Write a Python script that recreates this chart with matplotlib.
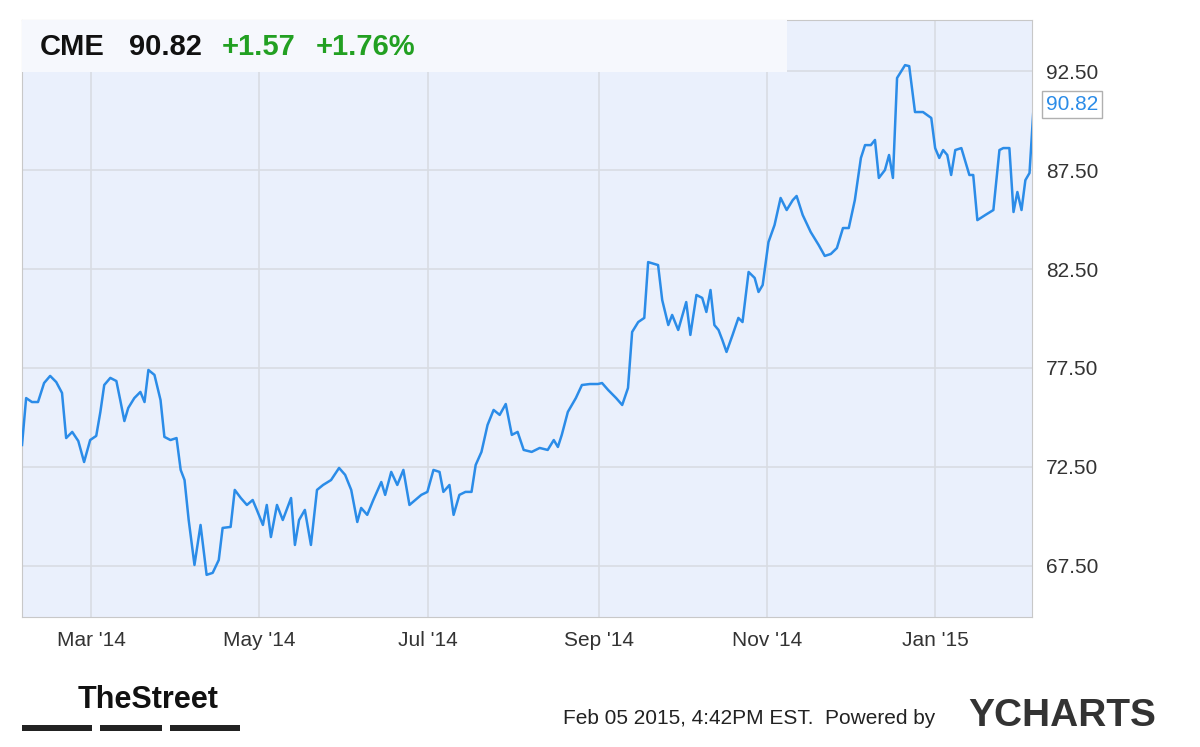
import matplotlib
matplotlib.use("Agg")
import matplotlib.pyplot as plt
import pandas as pd
from matplotlib.patches import Rectangle

plt.rcParams['font.family'] = ['Liberation Sans', 'DejaVu Sans']

start = pd.Timestamp("2014-02-04")
day_offsets = [0,1.5,3.6,5.8,8,10.2,12.4,14.5,16,18.2,20.4,22.5,24.7,26.9,28.4,29.8,32,34.2,35.6,37.1,38.5,40.7,42.9,44.4,45.8,48,50.2,51.6,53.8,56,57.5,58.9,60.4,62.5,64.7,66.9,69.1,71.3,72.7,75.6,77.1,79.3,81.5,83.6,85.1,87.3,88.7,90.2,92.4,94.5,97.5,98.9,100.4,102.5,104.7,106.9,109.1,112,114.9,117.1,119.3,121.5,122.9,125.1,127.3,130.2,131.6,133.8,136,138.2,140.4,142.5,144.7,146.9,149.1,151.3,152.7,154.9,156.4,158.5,160.7,162.9,164.4,166.5,168.7,170.9,173.1,175.3,177.5,179.6,181.8,184.7,187.6,190.5,192.7,194.2,195.6,197.8,200.7,202.9,205.8,208.7,210.2,212.4,215.3,217.5,219.6,221.1,223.3,225.5,226.9,230.5,232,234.2,235.6,237.8,240.7,242.2,244.4,246.5,248,249.5,250.9,252.4,253.8,255.3,257.5,259.6,261.1,263.3,265.5,266.9,268.4,270.5,272.7,274.9,277.1,279.3,280.7,282.9,285.8,288.7,290.9,293.1,295.3,297.5,299.6,301.8,304,305.5,307.6,309.1,310.5,312.7,314.2,315.6,317.1,320,321.5,323.6,326.5,329.5,330.9,332.4,333.8,335.3,336.7,338.2,340.4,343.3,344.7,346.2,349.1,352,354.2,355.6,357.8,359.3,360.7,362.2,363.6,365.1,366.5,367.3]
prices = [73.61,75.98,75.78,75.78,76.74,77.10,76.79,76.24,73.96,74.27,73.81,72.75,73.86,74.07,75.28,76.64,77.0,76.84,75.88,74.82,75.48,75.98,76.29,75.78,77.40,77.15,75.88,74.02,73.86,73.96,72.35,71.84,69.82,67.55,69.57,67.05,67.15,67.80,69.42,69.47,71.34,70.93,70.58,70.83,70.33,69.57,70.58,68.96,70.58,69.82,70.93,68.56,69.82,70.33,68.56,71.34,71.59,71.84,72.45,72.10,71.34,69.72,70.43,70.08,70.83,71.74,71.09,72.25,71.59,72.35,70.58,70.83,71.09,71.24,72.35,72.25,71.24,71.59,70.08,71.09,71.24,71.24,72.60,73.26,74.62,75.38,75.13,75.68,74.12,74.27,73.36,73.26,73.46,73.36,73.86,73.51,74.12,75.28,75.98,76.64,76.69,76.69,76.74,76.39,75.98,75.63,76.49,79.32,79.82,80.03,82.85,82.70,80.93,79.67,80.18,79.42,80.83,79.17,81.19,81.04,80.33,81.44,79.67,79.42,78.91,78.31,79.17,80.03,79.82,82.35,82.05,81.34,81.69,83.86,84.72,86.09,85.48,85.98,86.19,85.23,84.37,83.71,83.16,83.26,83.56,84.57,84.57,85.98,88.11,88.76,88.76,89.02,87.10,87.50,88.26,87.10,92.15,92.80,92.75,90.43,90.43,90.13,88.61,88.11,88.51,88.26,87.25,88.51,88.61,87.25,87.25,84.97,85.23,85.48,88.51,88.61,88.61,85.38,86.39,85.48,86.99,87.35,90.53,90.82]
n = min(len(day_offsets), len(prices))
dates = [start + pd.to_timedelta(d, unit="D") for d in day_offsets[:n]]
vals = prices[:n]
y_ticks = [67.5, 72.5, 77.5, 82.5, 87.5, 92.5]
x_ticks = ["2014-03-01", "2014-05-01", "2014-07-01", "2014-09-01", "2014-11-01", "2015-01-01"]
x_labels = ["Mar '14", "May '14", "Jul '14", "Sep '14", "Nov '14", "Jan '15"]

W, H = 1200, 747
fig = plt.figure(figsize=(12, 7.47), dpi=100)
ax = fig.add_axes([22/W, 1-617/H, (1032-22)/W, (617-20)/H])
ax.set_facecolor("#eaf0fc")
ax.plot(dates, vals, color="#2b8ce8", lw=1.8, zorder=3)
ax.set_xlim(pd.Timestamp("2014-02-04"), pd.Timestamp("2015-02-05"))
ax.set_ylim(64.92, 95.08)
ax.yaxis.tick_right()
ax.set_yticks(y_ticks)
ax.set_yticklabels([f"{v:.2f}" for v in y_ticks], fontsize=15, color="#333333")
ax.set_xticks([pd.Timestamp(t) for t in x_ticks])
ax.set_xticklabels(x_labels, fontsize=15, color="#333333")
ax.tick_params(length=0, pad=10)
ax.grid(True, color="#d8dce3", lw=1.2, zorder=1)
for s in ax.spines.values():
    s.set_color("#c8c8c8")

# header band
fig.patches.append(Rectangle((22/W, 1-72/H), (787-22)/W, 52/H, transform=fig.transFigure,
                             facecolor="#f6f8fd", edgecolor="none", zorder=2))
hdr = dict(fontsize=21, fontweight="bold", va="center", zorder=5)
fig.text(40/W, 1-47/H, "CME", color="#111111", **hdr)
fig.text(129/W, 1-47/H, "90.82", color="#111111", **hdr)
fig.text(222/W, 1-47/H, "+1.57", color="#22a022", **hdr)
fig.text(316/W, 1-47/H, "+1.76%", color="#22a022", **hdr)

# last price tag
ax.annotate(f"{vals[-1]:.2f}", xy=(1.0, vals[-1]), xycoords=("axes fraction", "data"),
            xytext=(10, 0), textcoords="offset points", fontsize=15, color="#2b8ce8",
            va="center", ha="left",
            bbox=dict(boxstyle="square,pad=0.2", fc="white", ec="#b0b0b0"), annotation_clip=False)

# footer
fig.text(78/W, 1-700/H, "TheStreet", fontsize=22, fontweight="bold", color="#111111",
         va="center")
for x0, w in ((22, 70), (100, 62), (170, 70)):
    fig.patches.append(Rectangle((x0/W, 1-731/H), w/W, 6/H, transform=fig.transFigure,
                                 facecolor="#222222", edgecolor="none"))
fig.text(563/W, 1-718/H, "Feb 05 2015, 4:42PM EST.  Powered by", fontsize=15, color="#222222", va="center")
fig.text(968/W, 1-716/H, "YCHARTS", fontsize=28, fontweight="bold", color="#333333", va="center")
fig.savefig("out.png", dpi=100, facecolor="white")
